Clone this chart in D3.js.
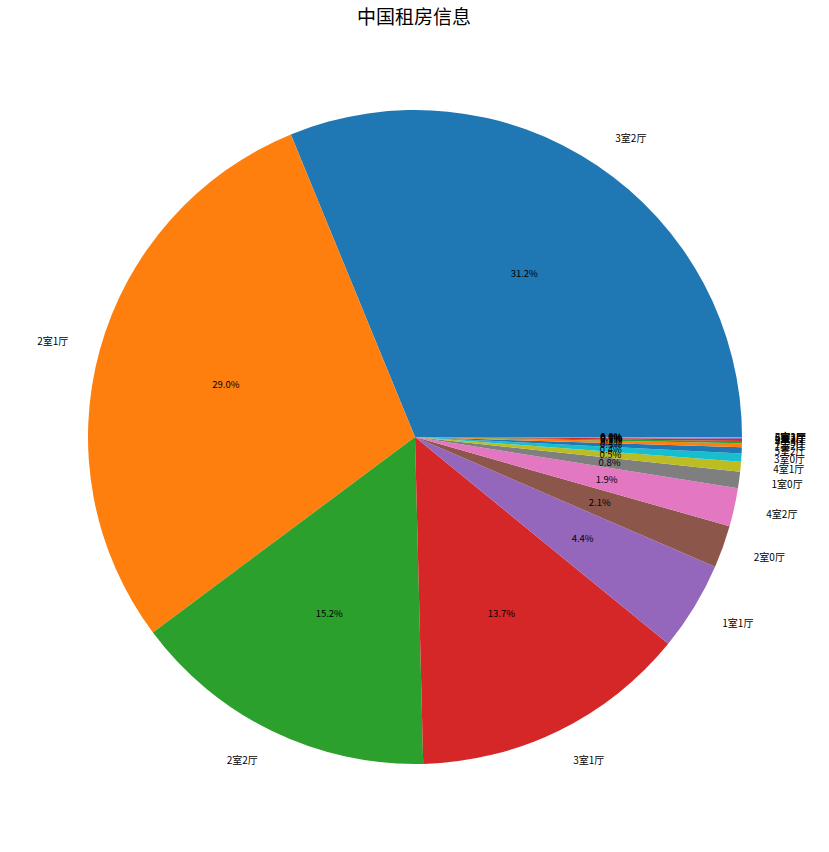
<!DOCTYPE html><html><head><meta charset="utf-8"><script src="https://cdn.jsdelivr.net/npm/d3@7"></script>
<style>body{margin:0;background:#fff}</style></head><body><svg id="c" width="829" height="852"></svg>
<script>
const categories=["3室2厅","2室1厅","2室2厅","3室1厅","1室1厅","2室0厅","4室2厅","1室0厅","4室1厅","3室0厅","5室2厅","1室2厅","4室3厅","5室3厅","6室2厅","5室1厅","3室3厅"];
const values=[31.2,29.0,15.2,13.7,4.4,2.1,1.9,0.8,0.5,0.4,0.3,0.2,0.1,0.1,0.05,0.03,0.02];
const colors=["#1f77b4","#ff7f0e","#2ca02c","#d62728","#9467bd","#8c564b","#e377c2","#7f7f7f","#bcbd22","#17becf"];
const svg=d3.select("#c"),cx=415,cy=437,R=327,font="'Noto Sans CJK SC',sans-serif";
svg.append("text").attr("x",414).attr("y",24).attr("text-anchor","middle").attr("font-size",19).attr("font-family",font).text("中国租房信息");
const total=d3.sum(values);
const pie=d3.pie().sort(null).startAngle(Math.PI/2).endAngle(Math.PI/2-2*Math.PI).value(d=>d);
const arcs=pie(values);
const arc=d3.arc().innerRadius(0).outerRadius(R);
const g=svg.append("g").attr("transform",`translate(${cx},${cy})`);
g.selectAll("path").data(arcs).join("path").attr("d",d=>arc({startAngle:d.endAngle,endAngle:d.startAngle})).attr("fill",(d,i)=>colors[i%10]);
arcs.forEach((d,i)=>{
 const a=(d.startAngle+d.endAngle)/2; // d3 angle: 0 = up, clockwise
 const x=Math.sin(a),y=-Math.cos(a);
 g.append("text").attr("x",1.1*R*x).attr("y",1.1*R*y).attr("dy","0.35em").attr("text-anchor",x>=0?"start":"end").attr("font-size",10).attr("font-family",font).text(categories[i]);
 g.append("text").attr("x",0.6*R*x).attr("y",0.6*R*y).attr("dy","0.35em").attr("text-anchor","middle").attr("font-size",9.5).attr("font-family",font).text((values[i]/total*100).toFixed(1)+"%");
});
</script></body></html>
